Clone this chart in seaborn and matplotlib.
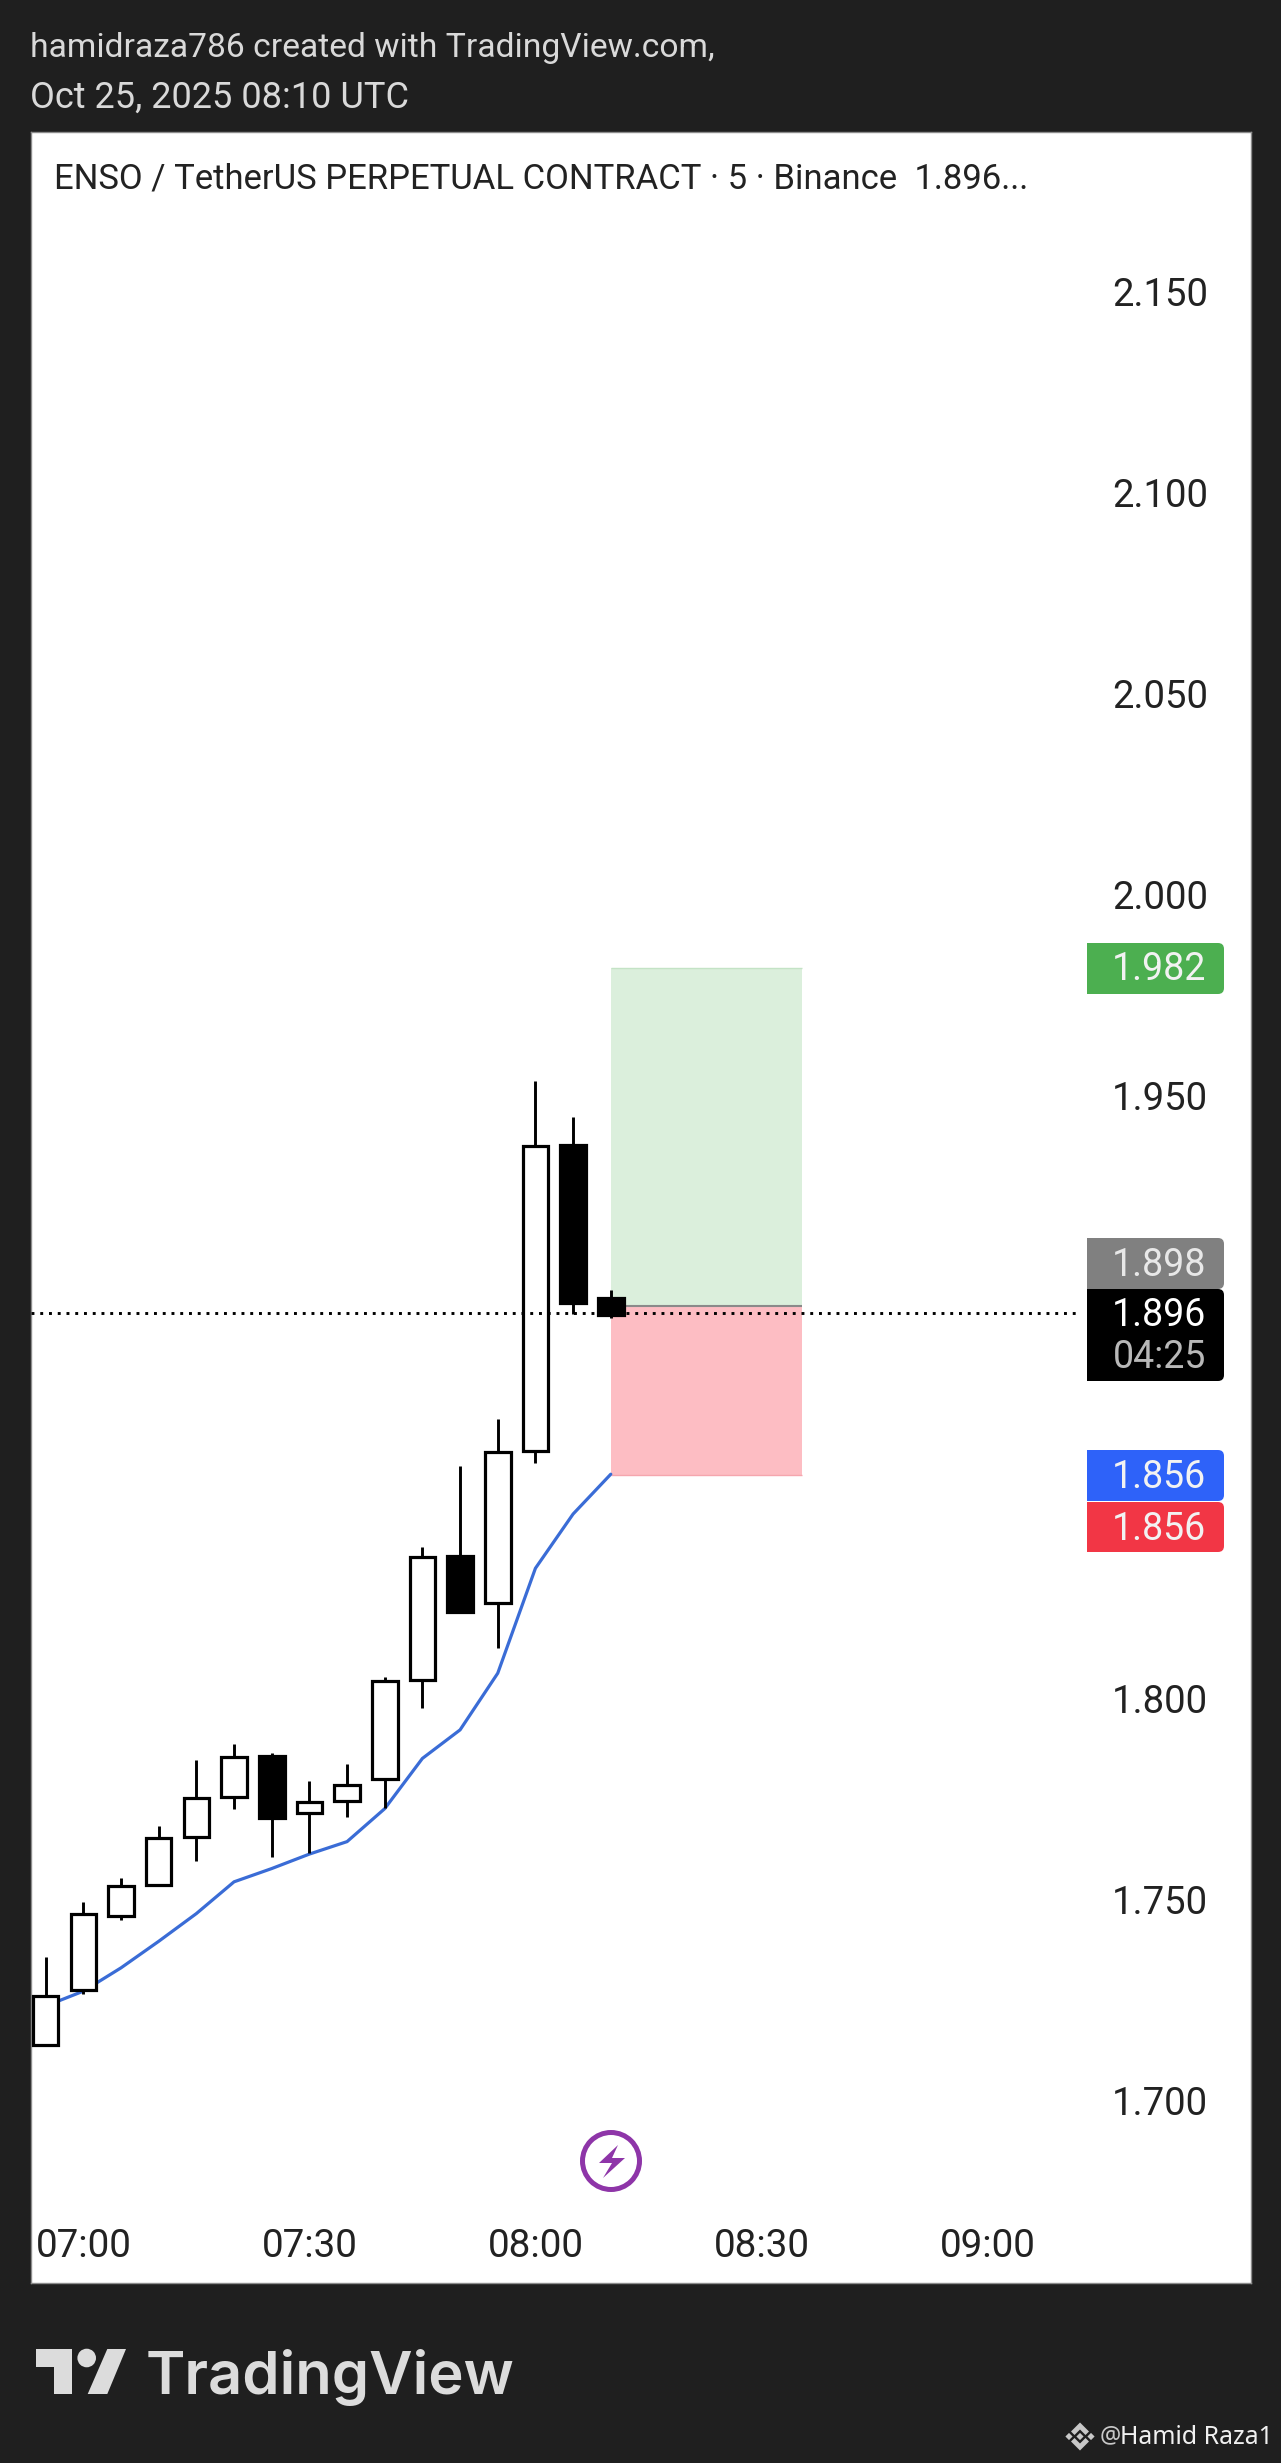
import numpy as np
import pandas as pd
import matplotlib
matplotlib.use("Agg")
import matplotlib.pyplot as plt
import seaborn as sns
from matplotlib.patches import Rectangle, FancyBboxPatch, Circle, Polygon
from matplotlib.transforms import IdentityTransform

W, H = 1281, 2463
BG = "#1f1f1f"

# candle data, minutes after 07:00
minutes = [-5, 0, 5, 10, 15, 20, 25, 30, 35, 40, 45, 50, 55, 60, 65, 70]
opens = [1.7136, 1.7275, 1.7457, 1.7536, 1.7655, 1.7755, 1.7855, 1.7714, 1.7744, 1.7798, 1.8046, 1.8354, 1.8236, 1.8615, 1.9375, 1.8995]
closes = [1.7260, 1.7462, 1.7532, 1.7651, 1.7752, 1.7853, 1.7702, 1.7741, 1.7783, 1.8042, 1.8352, 1.8213, 1.8612, 1.9374, 1.8983, 1.8953]
highs = [1.7355, 1.7493, 1.7553, 1.7683, 1.7845, 1.7885, 1.7864, 1.7795, 1.7836, 1.8053, 1.8375, 1.8577, 1.8694, 1.9535, 1.9445, 1.9015]
lows = [1.7136, 1.7264, 1.7447, 1.7536, 1.7596, 1.7724, 1.7605, 1.7615, 1.7705, 1.7726, 1.7976, 1.8213, 1.8125, 1.8585, 1.8955, 1.8945]

# moving average, one bar starts off screen
ema_minutes = [-10, -5, 0, 5, 10, 15, 20, 25, 30, 35, 40, 45, 50, 55, 60, 65, 70]
ema = [1.7199, 1.7234, 1.7271, 1.7329, 1.7395, 1.7464, 1.7543, 1.7576, 1.7612, 1.7643, 1.7725, 1.7850, 1.7921, 1.8062, 1.8323, 1.8458, 1.8557]

price_ticks = [1.70, 1.75, 1.80, 1.95, 2.00, 2.05, 2.10, 2.15]
time_ticks = [0, 30, 60, 90, 120]
time_labels = ["07:00", "07:30", "08:00", "08:30", "09:00"]

last_price = 1.8958
target = 1.9816
entry = 1.8976
stop = 1.8555
box_start, box_end = 70, 95.4
tag_target, tag_entry, tag_last, tag_timer, tag_stop = "1.982", "1.898", "1.896", "04:25", "1.856"

sns.set_theme(style="white")
plt.rcParams["font.family"] = ["Roboto", "DejaVu Sans"]

fig = plt.figure(figsize=(W / 100, H / 100), dpi=100, facecolor=BG)
ax = fig.add_axes([30.6 / W, (H - 2283) / H, (1251 - 30.6) / W, (2283 - 132) / H], facecolor="white")

df = pd.DataFrame({"minute": ema_minutes, "ema": ema})

# position boxes
ax.add_patch(Rectangle((box_start, entry), box_end - box_start, target - entry, fc="#dbefdc", ec="none", zorder=1))
ax.add_patch(Rectangle((box_start, stop), box_end - box_start, entry - stop, fc="#fdbdc3", ec="none", zorder=1))
ax.hlines(target, box_start, box_end, color="#c4e3c6", lw=1, zorder=1.5)
ax.hlines(stop, box_start, box_end, color="#f5a6ae", lw=1, zorder=1.5)
ax.hlines(entry, box_start, box_end, color="#8a8a8a", lw=1.5, zorder=1.5)

sns.lineplot(data=df, x="minute", y="ema", color="#3a6cd6", lw=2.3, ax=ax, zorder=2, legend=False)

# candles
for m, o, c, hi, lo in zip(minutes, opens, closes, highs, lows):
    ax.vlines(m, lo, hi, color="black", lw=2.1, zorder=3)
    fill = "white" if c >= o else "black"
    ax.bar(m, abs(c - o), bottom=min(o, c), width=3.4, color=fill, edgecolor="black", lw=2.3, zorder=4)

ax.hlines(last_price, -7, 131.8, color="black", lw=2.1, linestyles=(0, (1, 2)), zorder=5)

ax.set_xlim(-7.0, 154.97)
ax.set_ylim(1.6545, 2.1896)
ax.set_xlabel("")
ax.set_ylabel("")

ax.yaxis.tick_right()
ax.set_yticks(price_ticks)
ax.set_yticklabels([f"{p:.3f}" for p in price_ticks], fontsize=27.5, color="#222222")
ax.tick_params(axis="y", length=0, pad=-100)
ax.set_xticks(time_ticks)
ax.set_xticklabels(time_labels, fontsize=27.8, color="#222222")
ax.tick_params(axis="x", length=0, pad=-39.5)
for s in ax.spines.values():
    s.set_color("#8c8c8c")
    s.set_linewidth(1)

# header and legend line
fig.text(30 / W, 1 - 48 / H, "hamidraza786 created with TradingView.com,", color="#d9d9d9", fontsize=24.2, va="center")
fig.text(30 / W, 1 - 98 / H, "Oct 25, 2025 08:10 UTC", color="#d9d9d9", fontsize=26, va="center")
fig.text(54 / W, 1 - 179 / H, "ENSO / TetherUS PERPETUAL CONTRACT · 5 · Binance  1.896...", color="#222222", fontsize=24.9, va="center")


def px(x, y):
    return (x, H - y)


def price_y(p):
    return round(H - ax.transData.transform((0, p))[1])


def tag(top, bottom, color, lines):
    # box with rounded corners only on the right side
    fig.add_artist(FancyBboxPatch((1100, H - bottom + 6), 1224 - 1100 - 6, bottom - top - 12, boxstyle="round,pad=6,rounding_size=6", lw=0, fc=color, transform=IdentityTransform()))
    fig.add_artist(Rectangle((1087, H - bottom), 40, bottom - top, lw=0, fc=color, transform=IdentityTransform()))
    for txt, y, col in lines:
        fig.text(1206 / W, 1 - (y + 2) / H, txt, color=col, fontsize=27, ha="right", va="center", zorder=10)


# price tags, blue and green sit on their price, the others are pushed clear
y_t = price_y(target)
y_s = price_y(stop)
tag(y_t - 25, y_t + 26, "#4caf50", [(tag_target, y_t, "#f2f2f2")])
tag(1238, 1289, "#808080", [(tag_entry, 1263, "#e8e8e8")])
tag(1289, 1381, "black", [(tag_last, 1314, "white"), (tag_timer, 1356, "#b8b8b8")])
tag(y_s - 25, y_s + 26, "#2e62f9", [(tag_stop, y_s, "#f2f2f2")])
tag(y_s + 27, y_s + 77, "#f23645", [(tag_stop, y_s + 52, "#f2f2f2")])

# lightning icon
cx, cy = 611, 2161
fig.add_artist(Circle(px(cx, cy), 28.5, fc="none", ec="#8e35a8", lw=3.6, transform=IdentityTransform()))
bolt = [(7, -16), (-12, 2), (1, 2), (-8, 17), (14, -3), (1, -3)]
fig.add_artist(Polygon([px(cx + a, cy + b) for a, b in bolt], closed=True, fc="#8e35a8", ec="none", transform=IdentityTransform()))

# tradingview mark
mark = "#dcdcdc"
fig.add_artist(Polygon([px(36, 2349), px(72, 2349), px(72, 2394), px(54, 2394), px(54, 2367), px(36, 2367)], closed=True, fc=mark, ec="none", transform=IdentityTransform()))
fig.add_artist(Circle(px(86.7, 2358), 9.3, fc=mark, ec="none", transform=IdentityTransform()))
fig.add_artist(Polygon([px(107.3, 2349), px(126, 2349), px(107.3, 2394), px(87.7, 2394)], closed=True, fc=mark, ec="none", transform=IdentityTransform()))
fig.text(146 / W, 1 - 2394 / H, "TradingView", color=mark, fontsize=43, family="Inter", fontweight="semibold", va="baseline")

# signature bottom right
fig.text(1273 / W, 1 - 2437 / H, "Hamid Raza1", color="#f0f0f0", fontsize=17.9, family="Noto Sans", fontweight="medium", ha="right", va="center")
fig.text(1100 / W, 1 - 2436 / H, "@", color="#c8c8c8", fontsize=17, family="Noto Sans", ha="left", va="center")
icx, icy = 1080, 2436.5
icon = "#c8c8c8"
for a, b in [(-11, 0), (0, 0), (11, 0)]:
    s = 3.6
    fig.add_artist(Polygon([px(icx + a, icy + b - s), px(icx + a + s, icy + b), px(icx + a, icy + b + s), px(icx + a - s, icy + b)], closed=True, fc=icon, ec="none", transform=IdentityTransform()))
for sgn in [-1, 1]:
    chev = [(0, 14), (9, 5), (5.5, 1.5), (0, 7), (-5.5, 1.5), (-9, 5)]
    fig.add_artist(Polygon([px(icx + a, icy + sgn * b) for a, b in chev], closed=True, fc=icon, ec="none", transform=IdentityTransform()))

fig.savefig("out.png", dpi=100, facecolor=BG)
